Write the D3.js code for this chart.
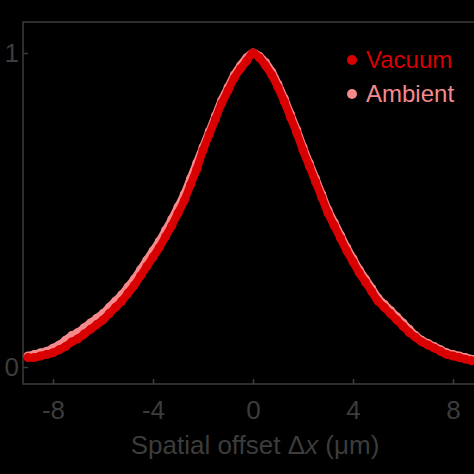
<!DOCTYPE html>
<html>
<head>
<script src="https://d3js.org/d3.v7.min.js"></script>
<style>body{margin:0;background:#000}</style>
</head>
<body>
<script>
// x positions, step 0.25 from -9 to 8.75
var xs = d3.range(72).map(function(i){ return -9 + i * 0.25; });
var vacuum = [0.03,0.03,0.035,0.04,0.045,0.055,0.065,0.08,0.09,0.105,0.12,0.135,0.15,0.17,0.19,0.21,0.235,0.26,0.29,0.32,0.35,0.38,0.415,0.45,0.49,0.53,0.58,0.63,0.69,0.74,0.79,0.84,0.88,0.92,0.95,0.975,1.0,0.985,0.96,0.93,0.89,0.845,0.795,0.745,0.69,0.64,0.59,0.54,0.49,0.45,0.41,0.37,0.335,0.3,0.27,0.24,0.21,0.19,0.17,0.15,0.13,0.11,0.095,0.08,0.07,0.06,0.05,0.04,0.035,0.03,0.025,0.02];
var ambient = [0.035,0.04,0.045,0.05,0.06,0.07,0.085,0.1,0.11,0.125,0.14,0.155,0.17,0.19,0.21,0.23,0.255,0.28,0.31,0.34,0.37,0.4,0.435,0.47,0.51,0.55,0.6,0.65,0.7,0.75,0.8,0.85,0.89,0.93,0.96,0.985,1.0,0.99,0.97,0.94,0.9,0.855,0.805,0.755,0.7,0.65,0.6,0.55,0.5,0.46,0.42,0.38,0.345,0.31,0.28,0.25,0.22,0.2,0.18,0.16,0.14,0.12,0.1,0.085,0.075,0.065,0.055,0.045,0.04,0.035,0.03,0.025];
var xTicks = [-8, -4, 0, 4, 8];
var yTicks = [0, 1];

var svg = d3.select("body").append("svg").attr("width", 474).attr("height", 474);
svg.append("rect").attr("width", 474).attr("height", 474).attr("fill", "#000");

var x = d3.scaleLinear().domain([-8, 8]).range([53, 453]);
var y = d3.scaleLinear().domain([0, 1]).range([367, 53]);
var grey = "#3c3c3c";
var font = "Liberation Sans, Arial";

// frame
svg.append("path").attr("d", "M474,22H23V384H474").attr("fill", "none").attr("stroke", grey).attr("stroke-width", 1.5);

var xa = svg.append("g").attr("transform", "translate(0,384)")
  .call(d3.axisBottom(x).tickValues(xTicks).tickSize(-5).tickPadding(12).tickFormat(function(d){ return String(d); }));
var ya = svg.append("g").attr("transform", "translate(23,0)")
  .call(d3.axisLeft(y).tickValues(yTicks).tickSize(-5).tickPadding(4).tickFormat(function(d){ return String(d); }));
[xa, ya].forEach(function(a){
  a.select(".domain").remove();
  a.selectAll("line").attr("stroke", grey).attr("stroke-width", 1.5);
  a.selectAll("text").attr("fill", grey).attr("font-family", font).attr("font-size", 26);
});
xa.selectAll("text").attr("dy", "0.9em");

var line = d3.line().x(function(d, i){ return x(xs[i]); }).y(function(d){ return y(d); }).curve(d3.curveCatmullRom);
function dots(vals, col){
  svg.append("path").attr("d", line(vals)).attr("fill", "none").attr("stroke", col)
    .attr("stroke-width", 8).attr("stroke-linecap", "round");
  svg.append("g").selectAll("circle").data(vals).enter().append("circle")
    .attr("cx", function(d, i){ return x(xs[i]); })
    .attr("cy", function(d){ return y(d); })
    .attr("r", 4.5).attr("fill", col);
}
dots(ambient, "#f58a8c");
dots(vacuum, "#d80000");

svg.append("text").attr("x", 255).attr("y", 454).attr("text-anchor", "middle")
  .attr("fill", grey).attr("font-family", font).attr("font-size", 26)
  .html('Spatial offset Δ<tspan font-style="italic">x</tspan> (μm)');

var legend = [["Vacuum", "#d80000"], ["Ambient", "#f58a8c"]];
legend.forEach(function(l, i){
  svg.append("circle").attr("cx", 352).attr("cy", 60 + i * 34).attr("r", 5).attr("fill", l[1]);
  svg.append("text").attr("x", 366).attr("y", 68 + i * 34).attr("fill", l[1])
    .attr("font-family", font).attr("font-size", 24).text(l[0]);
});
</script>
</body>
</html>
